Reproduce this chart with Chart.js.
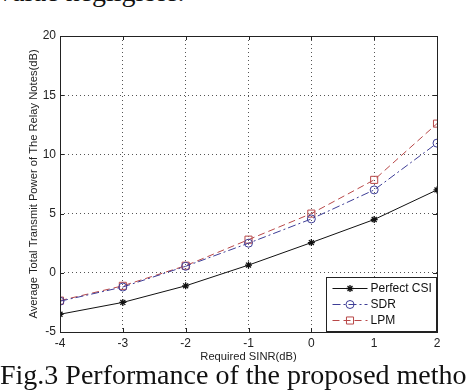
<!DOCTYPE html>
<html>
<head>
<meta charset="utf-8">
<script src="https://cdn.jsdelivr.net/npm/chart.js@4/dist/chart.umd.min.js"></script>
<style>
  html, body { margin: 0; padding: 0; background: #fff; width: 474px; height: 392px; overflow: hidden; }
  #wrap { position: absolute; left: 0; top: 0; width: 474px; height: 392px; }
  canvas { position: absolute; left: 0; top: 0; }
  .cap { position: absolute; font-family: "Liberation Serif", "Times New Roman", serif; font-size: 28px; line-height: 28px; white-space: nowrap; color: #111; }
</style>
</head>
<body>
<div id="wrap">
  <div class="cap" style="left:-2px; top:-22px;">value negligible.</div>
  <canvas id="c" width="474" height="392"></canvas>
  <div class="cap" style="left:0px; top:361px;">Fig.3 Performance of the proposed metho</div>
</div>
<script>
// ---- data ----
const sinr = [-4, -3, -2, -1, 0, 1, 2];
const perfectCSI = [-3.5, -2.5, -1.1, 0.65, 2.55, 4.5, 7.0];
const sdr = [-2.4, -1.2, 0.55, 2.5, 4.55, 7.0, 10.95];
const lpm = [-2.35, -1.1, 0.6, 2.8, 5.0, 7.85, 12.6];
const seriesNames = ['Perfect CSI', 'SDR', 'LPM'];
const yTicks = [-5, 0, 5, 10, 15, 20];
const xTicks = [-4, -3, -2, -1, 0, 1, 2];
const xTitle = 'Required SINR(dB)';
const yTitle = 'Average Total Transmit Power of The Relay Notes(dB)';

const toXY = arr => arr.map((v, i) => ({ x: sinr[i], y: v }));

const frameTicks = {
  id: 'frameTicks',
  afterDatasetsDraw(chart) {
    const { ctx, chartArea: a, scales } = chart;
    ctx.save();
    ctx.strokeStyle = '#222';
    ctx.lineWidth = 1;
    ctx.setLineDash([]);
    ctx.beginPath();
    const L = 4;
    xTicks.forEach(t => {
      const px = Math.round(scales.x.getPixelForValue(t)) + 0.5;
      ctx.moveTo(px, a.bottom); ctx.lineTo(px, a.bottom - L);
      ctx.moveTo(px, a.top); ctx.lineTo(px, a.top + L);
    });
    yTicks.forEach(t => {
      const py = Math.round(scales.y.getPixelForValue(t)) + 0.5;
      ctx.moveTo(a.left, py); ctx.lineTo(a.left + L, py);
      ctx.moveTo(a.right, py); ctx.lineTo(a.right - L, py);
    });
    ctx.stroke();
    ctx.strokeRect(Math.round(a.left) + 0.5, Math.round(a.top) + 0.5, Math.round(a.right - a.left), Math.round(a.bottom - a.top));
    ctx.restore();
  }
};

const insideLegend = {
  id: 'insideLegend',
  afterDraw(chart) {
    const { ctx, chartArea: a } = chart;
    const w = 110, h = 54;
    const x0 = Math.round(a.right) - w - 1 + 0.5, y0 = Math.round(a.bottom) - h - 1 + 0.5;
    ctx.save();
    ctx.fillStyle = '#fff';
    ctx.fillRect(x0, y0, w, h);
    ctx.strokeStyle = '#222';
    ctx.lineWidth = 1;
    ctx.setLineDash([]);
    ctx.strokeRect(x0, y0, w, h);
    chart.data.datasets.forEach((ds, i) => {
      const cy = y0 + 11 + i * 16;
      const lx0 = x0 + 6, lx1 = x0 + 41;
      ctx.strokeStyle = ds.borderColor;
      ctx.lineWidth = ds.borderWidth;
      ctx.setLineDash(ds.borderDash || []);
      ctx.beginPath(); ctx.moveTo(lx0, cy); ctx.lineTo(lx1, cy); ctx.stroke();
      ctx.setLineDash([]);
      ctx.strokeStyle = ds.pointBorderColor;
      ctx.fillStyle = ds.pointBackgroundColor || 'rgba(0,0,0,0)';
      ctx.lineWidth = ds.pointBorderWidth || 1;
      Chart.helpers.drawPoint(ctx, {
        pointStyle: ds.pointStyle, radius: ds.pointRadius, borderWidth: ds.pointBorderWidth || 1, rotation: 0
      }, (lx0 + lx1) / 2, cy);
      ctx.fillStyle = '#111';
      ctx.font = '12px "Liberation Sans", Arial, sans-serif';
      ctx.textBaseline = 'middle';
      ctx.fillText(ds.label, x0 + 44, cy + 0.5);
    });
    ctx.restore();
  }
};

const tickFont = { family: '"Liberation Sans", Arial, sans-serif', size: 12 };
const titleFont = { family: '"Liberation Sans", Arial, sans-serif', size: 11.2 };

new Chart(document.getElementById('c'), {
  type: 'line',
  data: {
    datasets: [
      {
        label: seriesNames[0], data: toXY(perfectCSI),
        borderColor: '#111', backgroundColor: '#111', borderWidth: 1,
        pointStyle: 'star', pointRadius: 3.5, pointBorderColor: '#111', pointBackgroundColor: '#111', pointBorderWidth: 1.3,
        tension: 0
      },
      {
        label: seriesNames[1], data: toXY(sdr),
        borderColor: '#3d3d96', backgroundColor: 'rgba(0,0,0,0)', borderWidth: 1,
        borderDash: [8, 3, 2, 3],
        pointStyle: 'circle', pointRadius: 4, pointBorderColor: '#3d3d96', pointBackgroundColor: 'rgba(0,0,0,0)', pointBorderWidth: 1,
        tension: 0
      },
      {
        label: seriesNames[2], data: toXY(lpm),
        borderColor: '#b84848', backgroundColor: 'rgba(0,0,0,0)', borderWidth: 1,
        borderDash: [7, 4],
        pointStyle: 'rect', pointRadius: 5, pointBorderColor: '#b84848', pointBackgroundColor: 'rgba(0,0,0,0)', pointBorderWidth: 1,
        tension: 0
      }
    ]
  },
  options: {
    responsive: false,
    animation: false,
    layout: { padding: { top: 36, right: 37, left: 0, bottom: 0 } },
    plugins: { legend: { display: false }, tooltip: { enabled: false } },
    scales: {
      x: {
        type: 'linear', min: -4, max: 2,
        afterFit(s) { s.height = 60; },
        afterBuildTicks(s) { s.ticks = xTicks.map(v => ({ value: v })); },
        grid: { color: '#555', lineWidth: 1, drawTicks: false },
        border: { display: false, dash: [1, 3] },
        ticks: { font: tickFont, color: '#222', padding: 4, maxRotation: 0 },
        title: { display: true, text: xTitle, font: titleFont, color: '#222', padding: { top: 0, bottom: 28 } }
      },
      y: {
        type: 'linear', min: -5, max: 20,
        afterFit(s) { s.width = 60; },
        afterBuildTicks(s) { s.ticks = yTicks.map(v => ({ value: v })); },
        grid: { color: '#555', lineWidth: 1, drawTicks: false },
        border: { display: false, dash: [1, 3] },
        ticks: { font: tickFont, color: '#222', padding: 4 },
        title: { display: true, text: yTitle, font: titleFont, color: '#222', padding: { top: 27, bottom: 0 } }
      }
    }
  },
  plugins: [frameTicks, insideLegend]
});
</script>
</body>
</html>
